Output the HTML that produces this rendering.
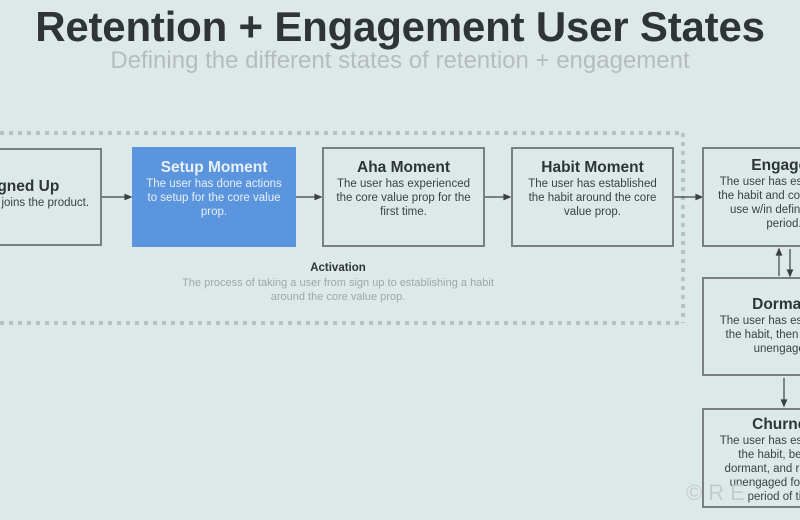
<!DOCTYPE html>
<html><head><style>
html,body{margin:0;width:800px;height:520px;overflow:hidden}
body{background:#dde9e9;font-family:"Liberation Sans",sans-serif;position:relative}
#w{position:absolute;left:0;top:0;width:800px;height:520px;overflow:hidden}
.t{position:absolute;left:0;width:800px;text-align:center;color:#2f3435;white-space:nowrap}
.box{position:absolute;width:160px;height:96px;border:2px solid #7b7f80;box-sizing:border-box;text-align:center;color:#3c4142;font-size:11.5px;line-height:14px;padding:9px 11px 0}
.box b{display:block;font-size:15.5px;line-height:19px;color:#2f3435}
.blue{background:#5b95dd;border-color:#5b95dd;color:#e8f0fb}
.blue b{color:#e8f0fb}
</style></head><body><div id="w">
<div class="t" style="top:3px;font-size:42px;font-weight:bold;letter-spacing:-0.2px">Retention + Engagement User States</div>
<div class="t" style="top:47px;font-size:24px;color:#b6bcbd">Defining the different states of retention + engagement</div>
<svg width="800" height="520" style="position:absolute;left:0;top:0">
<g stroke="#b9c1c2" stroke-width="4" stroke-dasharray="4 5" fill="none">
<line x1="0" y1="133" x2="683" y2="133"/><line x1="0" y1="323" x2="683" y2="323"/><line x1="683" y1="133" x2="683" y2="323"/>
</g>
<g stroke="#3c4142" stroke-width="1.2" fill="#3c4142">
<line x1="102" y1="197" x2="128" y2="197"/><polygon points="131,197 125,194.5 125,199.5"/>
<line x1="296" y1="197" x2="318" y2="197"/><polygon points="321,197 315,194.5 315,199.5"/>
<line x1="485" y1="197" x2="507" y2="197"/><polygon points="510,197 504,194.5 504,199.5"/>
<line x1="674" y1="197" x2="699" y2="197"/><polygon points="702,197 696,194.5 696,199.5"/>
<line x1="779" y1="276" x2="779" y2="252"/><polygon points="779,249 776.5,255 781.5,255"/>
<line x1="790" y1="249" x2="790" y2="273"/><polygon points="790,276 787.5,270 792.5,270"/>
<line x1="784" y1="378" x2="784" y2="403"/><polygon points="784,406 781.5,400 786.5,400"/>
</g>
</svg>
<div class="box" style="left:-60px;top:148px;height:98px;width:162px;padding-top:27px;padding-left:3px;padding-right:3px"><b>Signed Up</b>The user joins the product.</div>
<div class="box blue" style="left:132px;top:147px;width:164px;height:100px"><b>Setup Moment</b>The user has done actions to setup for the core value prop.</div>
<div class="box" style="left:322px;top:147px;width:163px;height:100px"><b>Aha Moment</b>The user has experienced the core value prop for the first time.</div>
<div class="box" style="left:511px;top:147px;width:163px;height:100px"><b>Habit Moment</b>The user has established the habit around the core value prop.</div>
<div class="box" style="left:702px;top:147px;width:164px;height:100px;padding-top:7px"><b>Engaged</b>The user has established the habit and continues to use w/in defined time period.</div>
<div class="box" style="left:702px;top:277px;width:164px;height:99px;padding-top:16px"><b>Dormant</b>The user has established the habit, then became unengaged.</div>
<div class="box" style="left:702px;top:408px;width:164px;height:100px;padding-top:5px"><b>Churned</b>The user has established the habit, became dormant, and remained unengaged for a long period of time.</div>
<div style="position:absolute;left:168px;top:261px;width:340px;text-align:center;font-size:11px;line-height:14px;color:#a0a6a7"><b style="color:#2f3435;font-size:11.5px;display:block;margin-bottom:1px">Activation</b>The process of taking a user from sign up to establishing a habit around the core value prop.</div>
<div style="position:absolute;left:686px;top:480px;font-size:22px;color:#c4cacb;letter-spacing:6px;white-space:nowrap">©RE</div>
</div></body></html>
